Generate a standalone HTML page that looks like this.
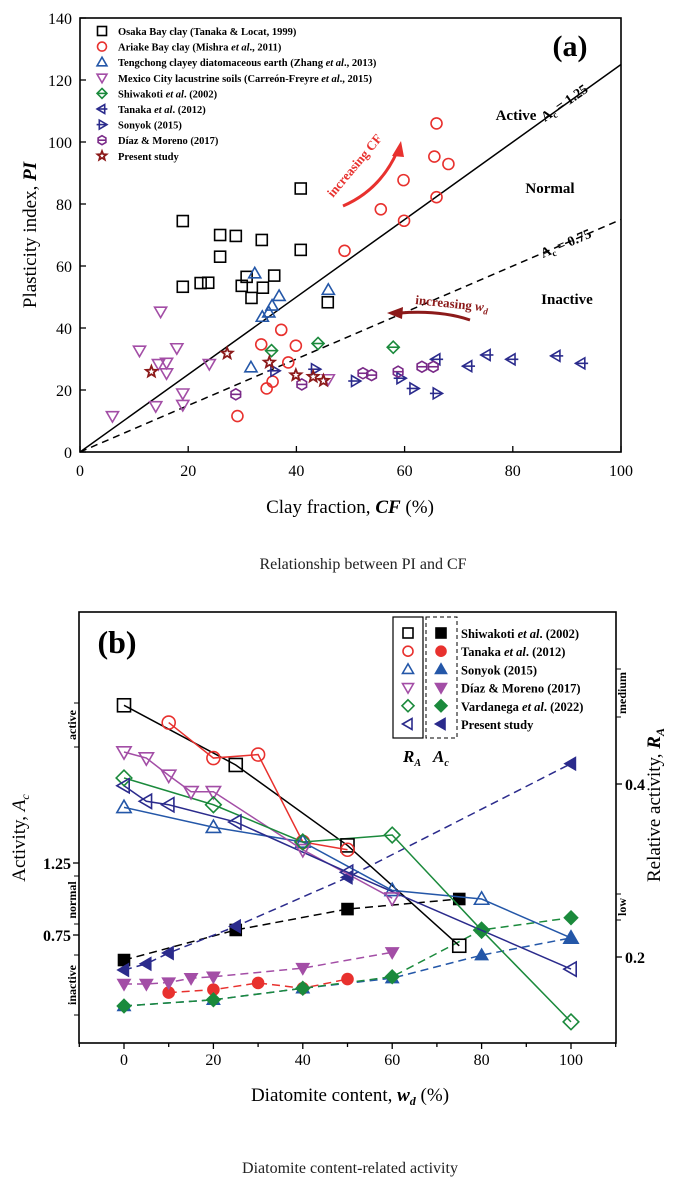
<!DOCTYPE html>
<html><head><meta charset="utf-8"><style>
html,body{margin:0;padding:0;background:#fff;}
svg{display:block;font-family:"Liberation Serif",serif;}
</style></head><body>
<svg id="chart" width="685" height="1185" viewBox="0 0 685 1185" xmlns="http://www.w3.org/2000/svg">
<g id="pa"></g>
<g id="pb"></g>
</svg>
<script>
// ---------- Panel (a) data ----------
const aXTicks=[0,20,40,60,80,100];
const aYTicks=[0,20,40,60,80,100,120,140];
const osakaCF=[19,25.9,28.8,33.6,25.9,19,22.3,23.7,29.9,30.8,33.8,31.7,35.9,40.8,40.8,45.8];
const osakaPI=[74.5,70,69.7,68.4,63,53.3,54.5,54.6,53.6,56.5,53,49.7,56.9,85,65.2,48.3];
const ariakeCF=[65.9,65.5,68.1,59.8,55.6,65.9,59.9,48.9,37.2,33.5,39.9,38.5,35.6,34.5,29.1];
const ariakePI=[106,95.3,92.9,87.7,78.3,82.2,74.6,64.9,39.4,34.7,34.3,28.9,22.7,20.5,11.6];
const tengCF=[32.3,36.8,35.5,34.9,33.7,31.6,45.9];
const tengPI=[57.6,50.3,47.2,45,43.6,27.3,52.3];
const mexCF=[6,11,14.9,14,16,14.5,17.9,16,19,19,23.9,45.9];
const mexPI=[11.6,32.7,45.3,14.8,28.8,28.4,33.5,25.4,18.9,15.2,28.4,23.5];
const shiwCF=[35.4,44,57.9];
const shiwPI=[32.7,35,33.8];
const tanCF=[65.9,71.8,75.2,79.8,88.1,92.7];
const tanPI=[29.9,27.7,31.3,29.9,31,28.6];
const sonCF=[35.9,43.4,50.8,59.2,61.6,65.9];
const sonPI=[26.2,26.7,22.9,23.8,20.5,18.9];
const diazCF=[28.8,41,52.3,53.9,58.8,63.2,65.3];
const diazPI=[18.6,21.8,25.4,24.8,25.9,27.5,27.5];
const presCF=[13.2,27.2,35,39.9,43.1,45];
const presPI=[25.9,31.8,28.9,24.8,24.3,23];
const acLines=[1.25,0.75];

// ---------- Panel (b) data ----------
const bXTicks=[0,20,40,60,80,100];
const shiwRAx=[0,25,50,75], shiwRA=[0.491,0.422,0.329,0.213];
const tanRAx=[10,20,30,40,50], tanRA=[0.471,0.430,0.434,0.333,0.324];
const sonRAx=[0,20,40,60,80,100], sonRA=[0.373,0.350,0.333,0.277,0.267,0.222];
const diazRAx=[0,5,10,15,20,40,60], diazRA=[0.437,0.430,0.410,0.391,0.391,0.324,0.268];
const varRAx=[0,20,40,60,80,100], varRA=[0.407,0.376,0.333,0.341,0.231,0.125];
const presRAx=[0,5,10,25,50,100], presRA=[0.398,0.380,0.376,0.356,0.298,0.186];
const shiwACx=[0,25,50,75], shiwAC=[0.576,0.785,0.93,1.0];
const tanACx=[10,20,30,40,50], tanAC=[0.35,0.37,0.417,0.38,0.444];
const sonACx=[0,20,40,60,80,100], sonAC=[0.257,0.30,0.38,0.45,0.61,0.73];
const diazACx=[0,5,10,15,20,40,60], diazAC=[0.41,0.41,0.42,0.45,0.46,0.52,0.63];
const varACx=[0,20,40,60,80,100], varAC=[0.257,0.30,0.38,0.46,0.785,0.87];
const presACx=[0,5,10,25,50,100], presAC=[0.507,0.55,0.625,0.81,1.15,1.94];
const acTicks=[1.25,0.75];
const raTicks=[0.2,0.4];

const NS="http://www.w3.org/2000/svg";
function el(parent,tag,attrs,text){const e=document.createElementNS(NS,tag);for(const k in attrs)e.setAttribute(k,attrs[k]);if(text!==undefined)e.textContent=text;parent.appendChild(e);return e;}
const C={black:"#000",red:"#e8312e",blue:"#2457a8",mag:"#a34ea6",green:"#1b8a3c",navy:"#2b2b8c",purple:"#7a2a88",maroon:"#8c1a1a"};

function marker(g,type,cx,cy,s,color,filled,name){
  const fill=filled?color:"none";const sw=1.6;let e;
  const h=s/2;
  if(type==="sq") e=el(g,"rect",{x:cx-h,y:cy-h,width:s,height:s,fill:fill,stroke:color,"stroke-width":sw});
  else if(type==="ci") e=el(g,"circle",{cx:cx,cy:cy,r:h,fill:fill,stroke:color,"stroke-width":sw});
  else if(type==="tu") e=el(g,"polygon",{points:`${cx},${cy-h*1.1} ${cx-h*1.1},${cy+h*0.8} ${cx+h*1.1},${cy+h*0.8}`,fill:fill,stroke:color,"stroke-width":sw});
  else if(type==="td") e=el(g,"polygon",{points:`${cx},${cy+h*1.1} ${cx-h*1.1},${cy-h*0.8} ${cx+h*1.1},${cy-h*0.8}`,fill:fill,stroke:color,"stroke-width":sw});
  else if(type==="tl") e=el(g,"polygon",{points:`${cx-h*1.1},${cy} ${cx+h*0.8},${cy-h*1.1} ${cx+h*0.8},${cy+h*1.1}`,fill:fill,stroke:color,"stroke-width":sw});
  else if(type==="tr") e=el(g,"polygon",{points:`${cx+h*1.1},${cy} ${cx-h*0.8},${cy-h*1.1} ${cx-h*0.8},${cy+h*1.1}`,fill:fill,stroke:color,"stroke-width":sw});
  else if(type==="di") e=el(g,"polygon",{points:`${cx},${cy-h*1.2} ${cx+h*1.2},${cy} ${cx},${cy+h*1.2} ${cx-h*1.2},${cy}`,fill:fill,stroke:color,"stroke-width":sw});
  else if(type==="dil"){e=el(g,"g",{});el(e,"polygon",{points:`${cx},${cy-h*1.1} ${cx+h*1.1},${cy} ${cx},${cy+h*1.1} ${cx-h*1.1},${cy}`,fill:"none",stroke:color,"stroke-width":sw});el(e,"line",{x1:cx-h*1.1,y1:cy,x2:cx+h*1.1,y2:cy,stroke:color,"stroke-width":sw});}
  else if(type==="tlp"){e=el(g,"g",{});el(e,"polygon",{points:`${cx-h*1.1},${cy} ${cx+h*0.6},${cy-h} ${cx+h*0.6},${cy+h}`,fill:"none",stroke:color,"stroke-width":sw});el(e,"line",{x1:cx-h*1.1,y1:cy,x2:cx+h*1.2,y2:cy,stroke:color,"stroke-width":sw});}
  else if(type==="trp"){e=el(g,"g",{});el(e,"polygon",{points:`${cx+h*1.1},${cy} ${cx-h*0.6},${cy-h} ${cx-h*0.6},${cy+h}`,fill:"none",stroke:color,"stroke-width":sw});el(e,"line",{x1:cx-h*1.2,y1:cy,x2:cx+h*1.1,y2:cy,stroke:color,"stroke-width":sw});}
  else if(type==="hex"){e=el(g,"g",{});let p=[];for(let i=0;i<6;i++){const a=Math.PI/3*i+Math.PI/6;p.push((cx+h*Math.cos(a))+","+(cy+h*Math.sin(a)));}el(e,"polygon",{points:p.join(" "),fill:"none",stroke:color,"stroke-width":sw});el(e,"line",{x1:cx-h,y1:cy,x2:cx+h,y2:cy,stroke:color,"stroke-width":sw});}
  else if(type==="star"){let p=[];for(let i=0;i<10;i++){const r=i%2?h*0.45:h*1.05;const a=-Math.PI/2+Math.PI/5*i;p.push((cx+r*Math.cos(a))+","+(cy+r*Math.sin(a)));}e=el(g,"polygon",{points:p.join(" "),fill:"none",stroke:color,"stroke-width":1.8});}
  
  
  return e;
}

// ================= Panel (a) =================
const pa=document.getElementById("pa");
const ax0=80,ax1=621,ay0=452,ay1=18;
const xa=v=>ax0+(v-0)/100*(ax1-ax0);
const ya=v=>ay0-(v-0)/140*(ay0-ay1);
(function(){
  const g=pa;
  const frame=el(g,"rect",{x:ax0,y:ay1,width:ax1-ax0,height:ay0-ay1,fill:"none",stroke:"#000","stroke-width":1.6});
  
  aXTicks.forEach(t=>{el(g,"line",{x1:xa(t),y1:ay0,x2:xa(t),y2:ay0-6,stroke:"#000","stroke-width":1.3});
    const tx=el(g,"text",{x:xa(t),y:ay0+24,"text-anchor":"middle","font-size":16},String(t));
    });
  aYTicks.forEach(t=>{el(g,"line",{x1:ax0,y1:ya(t),x2:ax0+6,y2:ya(t),stroke:"#000","stroke-width":1.3});
    const tx=el(g,"text",{x:ax0-8,y:ya(t)+6,"text-anchor":"end","font-size":16},String(t));
    });
  const l1=el(g,"line",{x1:xa(0),y1:ya(0),x2:xa(100),y2:ya(100*acLines[0]),stroke:"#000","stroke-width":1.5});
  
  const l2=el(g,"line",{x1:xa(0),y1:ya(0),x2:xa(100),y2:ya(100*acLines[1]),stroke:"#000","stroke-width":1.5,"stroke-dasharray":"7,5"});
  
  const series=[
    [osakaCF,osakaPI,"sq",C.black,"osaka-point"],[ariakeCF,ariakePI,"ci",C.red,"ariake-point"],
    [tengCF,tengPI,"tu",C.blue,"tengchong-point"],[mexCF,mexPI,"td",C.mag,"mexico-point"],
    [shiwCF,shiwPI,"dil",C.green,"shiwakoti-point"],[tanCF,tanPI,"tlp",C.navy,"tanaka-point"],
    [sonCF,sonPI,"trp",C.navy,"sonyok-point"],[diazCF,diazPI,"hex",C.purple,"diaz-point"],
    [presCF,presPI,"star",C.maroon,"present-study-point"]];
  series.forEach(s=>{s[0].forEach((v,i)=>marker(g,s[2],xa(v),ya(s[1][i]),11,s[3],false,s[4]));});
  const names=[["Osaka Bay clay (Tanaka & Locat, 1999)"],["Ariake Bay clay (Mishra ","et al","., 2011)"],["Tengchong clayey diatomaceous earth (Zhang ","et al","., 2013)"],["Mexico City lacustrine soils (Carreón-Freyre ","et al","., 2015)"],["Shiwakoti ","et al",". (2002)"],["Tanaka ","et al",". (2012)"],["Sonyok (2015)"],["Díaz & Moreno (2017)"],["Present study"]];
  const lg=el(g,"g",{});
  names.forEach((n,i)=>{const y=31+i*15.6;marker(lg,series[i][2],102,y,9,series[i][3],false,"legend-marker");
    const t=el(lg,"text",{x:118,y:y+4,"font-size":10.5,"font-weight":"bold"});
    
    n.forEach((p,j)=>{el(t,"tspan",j===1?{"font-style":"italic"}:{},p);});});
  const txt=(x,y,s,attrs,name)=>{const t=el(g,"text",Object.assign({x:x,y:y},attrs),s);return t;};
  txt(570,56,"(a)",{"font-size":30,"font-weight":"bold","text-anchor":"middle"},"panel-label-a");
  txt(516,120,"Active",{"font-size":15,"font-weight":"bold","text-anchor":"middle"},"active-region-label");
  txt(550,193,"Normal",{"font-size":15,"font-weight":"bold","text-anchor":"middle"},"normal-region-label");
  txt(567,304,"Inactive",{"font-size":15,"font-weight":"bold","text-anchor":"middle"},"inactive-region-label");
  const r1=txt(0,0,"",{"font-size":14,"font-weight":"bold","transform":"translate(545,122) rotate(-35)"},"ac-1.25-label");
  el(r1,"tspan",{},"A");el(r1,"tspan",{"font-size":9,dy:3},"c");el(r1,"tspan",{dy:-3}," = 1.25");
  const r2=txt(0,0,"",{"font-size":14,"font-weight":"bold","transform":"translate(543,258) rotate(-23)"},"ac-0.75-label");
  el(r2,"tspan",{},"A");el(r2,"tspan",{"font-size":9,dy:3},"c");el(r2,"tspan",{dy:-3}," = 0.75");
  const a1=el(g,"path",{d:"M343,206 Q380,190 397,152",fill:"none",stroke:C.red,"stroke-width":3});
  
  el(g,"polygon",{points:"401,141 392,156 404,157",fill:C.red});
  txt(0,0,"increasing CF",{"font-size":13,fill:C.red,"font-weight":"bold","transform":"translate(333,198) rotate(-50)"},"increasing-cf-label");
  const a2=el(g,"path",{d:"M470,320 Q440,310 400,313",fill:"none",stroke:C.maroon,"stroke-width":3});
  
  el(g,"polygon",{points:"387,313 403,307 402,319",fill:C.maroon});
  const w=txt(415,304,"increasing ",{"font-size":13,fill:C.maroon,"font-weight":"bold","transform":"rotate(6 415 304)"},"increasing-wd-label");
  el(w,"tspan",{"font-style":"italic"},"w");el(w,"tspan",{"font-size":9,dy:3,"font-style":"italic"},"d");
  const yl=txt(0,0,"Plasticity index, ",{"font-size":19,"text-anchor":"middle","transform":"translate(36,235) rotate(-90)"},"y-axis-title-a");
  el(yl,"tspan",{"font-weight":"bold","font-style":"italic"},"PI");
  const xl=txt(350,513,"Clay fraction, ",{"font-size":19,"text-anchor":"middle"},"x-axis-title-a");
  el(xl,"tspan",{"font-weight":"bold","font-style":"italic"},"CF");el(xl,"tspan",{}," (%)");
  txt(363,569,"Relationship between PI and CF",{"font-size":16,"text-anchor":"middle",fill:"#222"},"caption-a");
})();

// ================= Panel (b) =================
const pb=document.getElementById("pb");
const bx0=79,bx1=616,by0=1043,by1=612;
const xb=v=>124+v*4.47;
const yac=v=>863-(v-1.25)*144;
const yra=v=>957-(v-0.2)*865;
(function(){
  const g=pb;
  const frame=el(g,"rect",{x:bx0,y:by1,width:bx1-bx0,height:by0-by1,fill:"none",stroke:"#000","stroke-width":1.6});
  
  for(let t=-10;t<=110;t+=10){const major=bXTicks.includes(t);el(g,"line",{x1:xb(t),y1:by0,x2:xb(t),y2:by0+(major?6:4),stroke:"#000","stroke-width":1.3});}
  bXTicks.forEach(t=>{const tx=el(g,"text",{x:xb(t),y:by0+22,"text-anchor":"middle","font-size":16},String(t));});
  acTicks.forEach(t=>{el(g,"line",{x1:bx0-6,y1:yac(t),x2:bx0,y2:yac(t),stroke:"#000","stroke-width":1.3});
    const tx=el(g,"text",{x:bx0-8,y:yac(t)+6,"text-anchor":"end","font-size":16,"font-weight":"bold"},String(t));});
  raTicks.forEach(t=>{el(g,"line",{x1:bx1,y1:yra(t),x2:bx1+6,y2:yra(t),stroke:"#000","stroke-width":1.3});
    const tx=el(g,"text",{x:bx1+9,y:yra(t)+6,"font-size":16,"font-weight":"bold"},String(t));});
  const cat=(x,y,s,name)=>{const t=el(g,"text",{"font-size":12,"font-weight":"bold","text-anchor":"middle","transform":`translate(${x},${y}) rotate(-90)`},s);};
  cat(bx0-3,725,"active","active-category");cat(bx0-3,900,"normal","normal-category");cat(bx0-3,985,"inactive","inactive-category");
  cat(bx1+10,693,"medium","medium-category");cat(bx1+10,907,"low","low-category");
  const catLine=(x,y1,y2)=>{el(g,"line",{x1:x,y1:y1,x2:x+5,y2:y1,stroke:"#000"});};
  [[725,22],[900,24],[985,30]].forEach(a=>{catLine(bx0-5,a[0]-a[1]);catLine(bx0-5,a[0]+a[1]);});
  [[693,24],[907,13]].forEach(a=>{catLine(bx1,a[0]-a[1]);catLine(bx1,a[0]+a[1]);});
  const S=[
    [shiwRAx,shiwRA,shiwACx,shiwAC,"sq",C.black,"shiwakoti"],
    [tanRAx,tanRA,tanACx,tanAC,"ci",C.red,"tanaka"],
    [sonRAx,sonRA,sonACx,sonAC,"tu",C.blue,"sonyok"],
    [diazRAx,diazRA,diazACx,diazAC,"td",C.mag,"diaz"],
    [varRAx,varRA,varACx,varAC,"di",C.green,"vardanega"],
    [presRAx,presRA,presACx,presAC,"tl",C.navy,"present-study"]];
  S.forEach(s=>{
    const pl=el(g,"polyline",{points:s[2].map((v,i)=>xb(v)+","+yac(s[3][i])).join(" "),fill:"none",stroke:s[5],"stroke-width":1.5,"stroke-dasharray":"8,5"});
    
  });
  S.forEach(s=>{s[2].forEach((v,i)=>marker(g,s[4],xb(v),yac(s[3][i]),11,s[5],true,s[6]+"-ac-point"));});
  S.forEach(s=>{
    const pl=el(g,"polyline",{points:s[0].map((v,i)=>xb(v)+","+yra(s[1][i])).join(" "),fill:"none",stroke:s[5],"stroke-width":1.5});
    
  });
  S.forEach(s=>{s[0].forEach((v,i)=>marker(g,s[4],xb(v),yra(s[1][i]),13,s[5],false,s[6]+"-ra-point"));});
  const lg=el(g,"g",{});
  el(lg,"rect",{x:393,y:617,width:30,height:121,fill:"#fff",stroke:"#000","stroke-width":1.2});
  el(lg,"rect",{x:426,y:617,width:31,height:121,fill:"#fff",stroke:"#000","stroke-width":1,"stroke-dasharray":"4,3"});
  const ln=[["Shiwakoti ","et al",". (2002)"],["Tanaka ","et al",". (2012)"],["Sonyok (2015)"],["Díaz & Moreno (2017)"],["Vardanega ","et al",". (2022)"],["Present study"]];
  S.forEach((s,i)=>{const y=633+i*18.2;marker(lg,s[4],408,y,10,s[5],false,"legend-marker-ra");marker(lg,s[4],441,y,10,s[5],true,"legend-marker-ac");
    const t=el(lg,"text",{x:461,y:y+5,"font-size":12.5,"font-weight":"bold"});
    ln[i].forEach((p,j)=>el(t,"tspan",j===1?{"font-style":"italic"}:{},p));});
  const txt=(x,y,s,attrs,name)=>{const t=el(g,"text",Object.assign({x:x,y:y},attrs),s);return t;};
  const ra=txt(403,762,"R",{"font-size":17,"font-weight":"bold","font-style":"italic"},"legend-ra-header");el(ra,"tspan",{"font-size":10,dy:4},"A");
  const ac=txt(433,762,"A",{"font-size":17,"font-weight":"bold","font-style":"italic"},"legend-ac-header");el(ac,"tspan",{"font-size":10,dy:4},"c");
  txt(117,653,"(b)",{"font-size":32,"font-weight":"bold","text-anchor":"middle"},"panel-label-b");
  const yl=txt(0,0,"Activity, ",{"font-size":19,"text-anchor":"middle","transform":"translate(25,838) rotate(-90)"},"y-axis-title-ac");
  el(yl,"tspan",{"font-style":"italic"},"A");el(yl,"tspan",{"font-size":12,dy:4,"font-style":"italic"},"c");
  const yr=txt(0,0,"Relative activity, ",{"font-size":19,"text-anchor":"middle","transform":"translate(660,805) rotate(-90)"},"y-axis-title-ra");
  el(yr,"tspan",{"font-style":"italic","font-weight":"bold"},"R");el(yr,"tspan",{"font-size":12,dy:4,"font-style":"italic","font-weight":"bold"},"A");
  const xl=txt(350,1101,"Diatomite content, ",{"font-size":19,"text-anchor":"middle"},"x-axis-title-b");
  el(xl,"tspan",{"font-weight":"bold","font-style":"italic"},"w");el(xl,"tspan",{"font-size":12,dy:4,"font-weight":"bold","font-style":"italic"},"d");el(xl,"tspan",{dy:-4}," (%)");
  txt(350,1173,"Diatomite content-related activity",{"font-size":16,"text-anchor":"middle",fill:"#222"},"caption-b");
})();
</script>
</body></html>
